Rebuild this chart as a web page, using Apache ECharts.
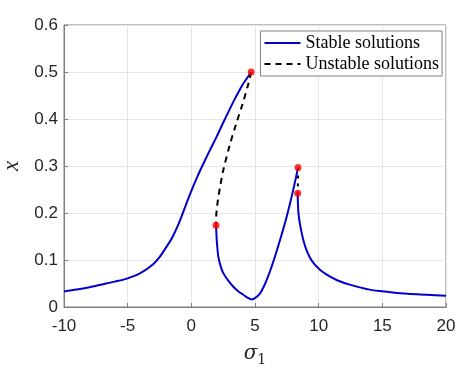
<!DOCTYPE html>
<html>
<head>
<meta charset="utf-8">
<script src="https://cdn.jsdelivr.net/npm/echarts@6/dist/echarts.min.js"></script>
<style>html,body{margin:0;padding:0;background:#fff}#c{width:474px;height:370px}</style>
</head>
<body>
<div id="c"></div>
<script>
// Stable branch 1 (left, rising to the upper fold)
const stable1X = [-10,-9,-8,-7,-6,-5,-4,-3,-2.5,-2,-1.5,-1,-0.5,0,0.5,1,1.5,2,2.5,3,3.5,4,4.4,4.7];
const stable1Y = [0.033,0.037,0.042,0.048,0.054,0.061,0.072,0.091,0.106,0.126,0.148,0.177,0.212,0.247,0.279,0.308,0.336,0.363,0.392,0.420,0.447,0.472,0.488,0.500];
// Stable branch 2 (lower, from left fold through minimum up to the peak)
const stable2X = [1.94,1.97,2.0,2.12,2.3,2.51,2.9,3.3,3.7,4.08,4.4,4.74,5.05,5.4,5.8,6.18,6.6,6.97,7.4,7.75,8.05,8.33,8.38];
const stable2Y = [0.174,0.155,0.140,0.107,0.087,0.072,0.056,0.043,0.033,0.026,0.020,0.016,0.020,0.029,0.050,0.076,0.110,0.143,0.183,0.220,0.255,0.290,0.297];
// Stable branch 3 (right, decaying tail)
const stable3X = [8.35,8.38,8.43,8.56,8.8,9.09,9.5,10.1,10.8,11.45,12.5,14,15.5,17,18.5,20];
const stable3Y = [0.242,0.215,0.195,0.172,0.142,0.118,0.097,0.079,0.066,0.057,0.047,0.037,0.032,0.028,0.026,0.024];
// Unstable branches
const unstable1X = [4.7,4.45,4.0,3.5,3.0,2.5,2.3,2.1,1.97,1.94];
const unstable1Y = [0.500,0.472,0.430,0.388,0.343,0.290,0.262,0.230,0.200,0.174];
const unstable2X = [8.38,8.39,8.38,8.36,8.35];
const unstable2Y = [0.297,0.282,0.268,0.254,0.242];
// Fold / bifurcation points
const foldX = [4.7,1.94,8.38,8.35];
const foldY = [0.500,0.174,0.297,0.242];
// Axis ticks
const xTicks = [-10,-5,0,5,10,15,20];
const yTicks = [0,0.1,0.2,0.3,0.4,0.5,0.6];

const zip = (xs, ys) => xs.map((x, i) => [x, ys[i]]);
const blue = '#0000cc';
const axisCol = '#7f7f7f';
const txtCol = '#262626';

const chart = echarts.init(document.getElementById('c'), null, {renderer: 'canvas'});
const stableStyle = {color: blue, width: 2};
const unstableStyle = {color: '#000', width: 2, type: [6, 5]};
const hideSym = {color: 'rgba(0,0,0,0)', borderColor: 'rgba(0,0,0,0)', borderWidth: 0};

chart.setOption({
  animation: false,
  grid: {left: 64, right: 28, top: 25, bottom: 63, show: true, borderColor: axisCol, borderWidth: 1,
    containLabel: false, outerBoundsMode: 'none'},
  legend: {
    data: [
      {name: 'Stable solutions', itemStyle: hideSym},
      {name: 'Unstable solutions', itemStyle: hideSym}
    ],
    orient: 'vertical', right: 32, top: 31,
    backgroundColor: '#fff', borderColor: '#7f7f7f', borderWidth: 1,
    padding: [3, 3, 3, 3], itemGap: 3, itemWidth: 36, itemHeight: 14,
    textStyle: {fontFamily: 'Liberation Serif', fontSize: 18, color: '#000'}
  },
  xAxis: {
    type: 'value', min: -10, max: 20, interval: 5,
    name: '{s|σ}{sub|1}', nameLocation: 'middle', nameGap: 34,
    nameTextStyle: {rich: {s: {fontFamily: 'DejaVu Serif', fontStyle: 'italic', fontSize: 20, color: txtCol}, sub: {fontFamily: 'DejaVu Serif', fontSize: 14, color: txtCol, verticalAlign: 'bottom', padding: [12,0,0,0]}}},
    axisLine: {onZero: false, lineStyle: {color: axisCol}},
    axisTick: {inside: true, length: 4, lineStyle: {color: axisCol}},
    axisLabel: {fontFamily: 'Liberation Sans', fontSize: 17, color: txtCol, margin: 11},
    splitLine: {show: true, lineStyle: {color: '#e6e6e6'}}
  },
  yAxis: {
    type: 'value', min: 0, max: 0.6, interval: 0.1,
    name: 'x', nameLocation: 'middle', nameGap: 41, nameRotate: 90,
    nameTextStyle: {fontFamily: 'Liberation Serif', fontStyle: 'italic', fontSize: 23, color: txtCol},
    axisLine: {onZero: false, lineStyle: {color: axisCol}},
    axisTick: {inside: true, length: 4, lineStyle: {color: axisCol}},
    axisLabel: {fontFamily: 'Liberation Sans', fontSize: 17, color: txtCol, margin: 6,
      formatter: v => (Math.round(v * 10) / 10).toString()},
    splitLine: {show: true, lineStyle: {color: '#e6e6e6'}}
  },
  series: [
    {name: 'Stable solutions', type: 'line', data: zip(stable1X, stable1Y), symbol: 'none', smooth: 0.3, lineStyle: stableStyle, itemStyle: {color: blue}},
    {name: 'Stable solutions', type: 'line', data: zip(stable2X, stable2Y), symbol: 'none', smooth: 0.3, lineStyle: stableStyle, itemStyle: {color: blue}},
    {name: 'Stable solutions', type: 'line', data: zip(stable3X, stable3Y), symbol: 'none', smooth: 0.3, lineStyle: stableStyle, itemStyle: {color: blue}},
    {name: 'Unstable solutions', type: 'line', data: zip(unstable1X, unstable1Y), symbol: 'none', smooth: 0.3, lineStyle: unstableStyle, itemStyle: {color: '#000'}},
    {name: 'Unstable solutions', type: 'line', data: zip(unstable2X, unstable2Y), symbol: 'none', lineStyle: {color: '#000', width: 2, type: [3, 5]}, itemStyle: {color: '#000'}},
    {name: 'Folds', type: 'scatter', data: zip(foldX, foldY), symbol: 'circle', symbolSize: 7, itemStyle: {color: '#ff0000'}, z: 5}
  ]
});
</script>
</body>
</html>
